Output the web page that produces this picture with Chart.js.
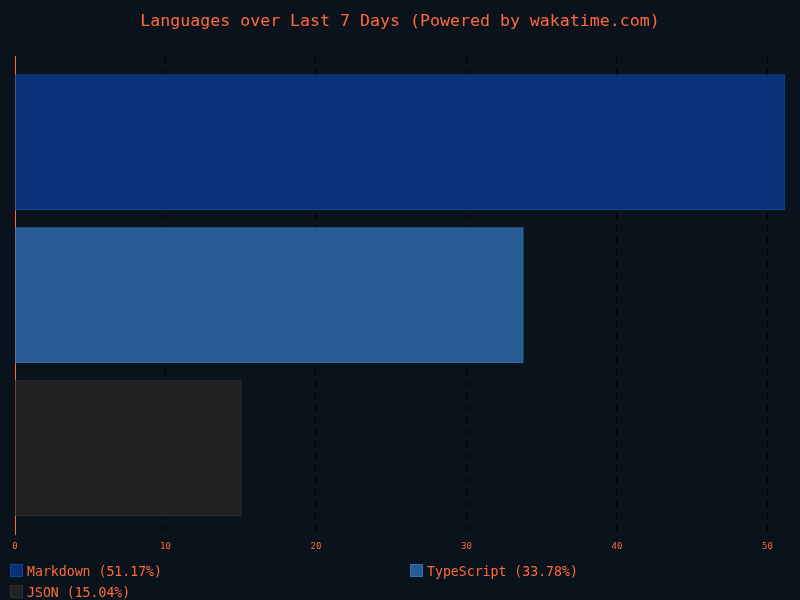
<!DOCTYPE html>
<html>
<head>
<meta charset="utf-8">
<script src="https://cdn.jsdelivr.net/npm/chart.js@4"></script>
<style>
  body { margin: 0; background: #0a131b; }
  #wrap { position: relative; width: 800px; height: 600px; }
  #legend { position: absolute; left: 10px; top: 564px; width: 790px; font: 13.2px "DejaVu Sans Mono", monospace; color: #ff6a3a; }
  .item { position: absolute; white-space: nowrap; }
  .box { display: inline-block; width: 11px; height: 11px; border: 1px solid; vertical-align: -1px; margin-right: 4px; }
</style>
</head>
<body>
<div id="wrap">
  <canvas id="chart" width="800" height="600"></canvas>
  <div id="legend"></div>
</div>
<script>
// languages and their share of the last 7 days
const languages = ["Markdown", "TypeScript", "JSON"];
const percents = [51.17, 33.78, 15.04];
const fills = ["#083178", "#265b94", "#1f2123"];
const edges = ["#0f43a0", "#3470b0", "#2f3134"];
const xTicks = [0, 10, 20, 30, 40, 50];

const orange = "#ff6a3a";

// legend in two columns like the original
const legend = document.querySelector("#legend");
languages.forEach(function (name, i) {
  const item = document.createElement("div");
  item.className = "item";
  item.style.left = (i % 2) * 400 + "px";
  item.style.top = Math.floor(i / 2) * 21 + "px";
  item.innerHTML = '<span class="box" style="background:' + fills[i] + ';border-color:' + edges[i] + '"></span>' +
    name + " (" + percents[i].toFixed(2) + "%)";
  legend.appendChild(item);
});

const canvas = document.querySelector("#chart");
const chart = new Chart(canvas.getContext("2d"), {
  type: "bar",
  data: {
    datasets: [
      {
        label: "Languages",
        data: languages.map(function (name, i) { return { x: percents[i], y: i }; }),
        backgroundColor: fills,
        borderColor: edges,
        borderWidth: 1,
        borderSkipped: false,
        barThickness: 135,
      },
    ],
  },
  options: {
    indexAxis: "y",
    responsive: false,
    animation: false,
    layout: {
      padding: { left: 15, right: 15, top: 0, bottom: 41 },
    },
    scales: {
      y: {
        type: "linear",
        reverse: true,
        offset: false,
        min: -0.557,
        max: 2.563,
        grid: { display: false, drawTicks: false },
        ticks: { display: false },
        border: { display: true, color: orange, width: 1 },
      },
      x: {
        type: "linear",
        min: 0,
        max: percents[0],
        afterBuildTicks: function (scale) {
          scale.ticks = xTicks.map(function (v) { return { value: v }; });
        },
        grid: { color: "#000000", drawTicks: false, lineWidth: 1 },
        border: { display: false, dash: [6, 6] },
        ticks: {
          color: orange,
          padding: 7,
          font: { family: "DejaVu Sans Mono", size: 9 },
        },
      },
    },
    plugins: {
      legend: { display: false },
      tooltip: { enabled: false },
      title: {
        display: true,
        text: "Languages over Last 7 Days (Powered by wakatime.com)",
        color: orange,
        font: { family: "DejaVu Sans Mono", size: 16.6, weight: "normal" },
        padding: { top: 12, bottom: 25 },
      },
    },
  },
});
</script>
</body>
</html>
